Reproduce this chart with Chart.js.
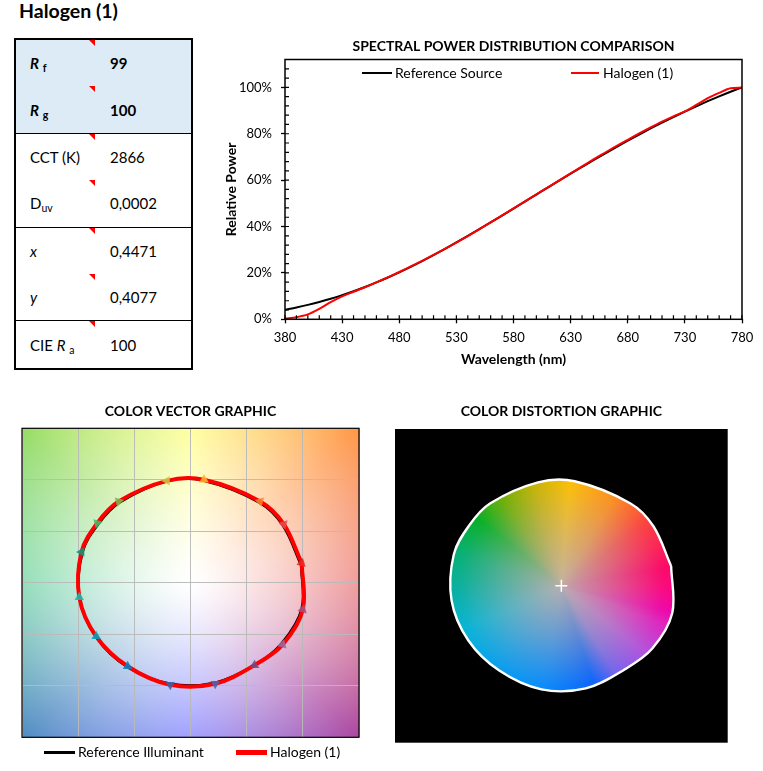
<!DOCTYPE html>
<html>
<head>
<meta charset="utf-8">
<title>Halogen (1)</title>
<script src="https://cdn.jsdelivr.net/npm/chart.js@4.4.1/dist/chart.umd.min.js"></script>
<style>
    body { margin: 0; background: #fff; font-family: Lato, 'Open Sans', sans-serif; color: #000; }
    #page { position: relative; width: 763px; height: 771px; overflow: hidden; }
    #pageTitle { position: absolute; left: 19px; top: 0; font-size: 19.5px; font-weight: bold; line-height: 1.1; }
    #metrics { position: absolute; left: 14px; top: 38px; width: 179px; border: 2px solid #000; box-sizing: border-box; font-size: 15px; }
    .grp { border-top: 1px solid #000; }
    .grp.shade { border-top: none; background: #ddebf7; }
    .row { display: flex; height: 46.4px; align-items: center; }
    .lab { position: relative; width: 79px; height: 100%; display: flex; align-items: center; padding-left: 14px; box-sizing: border-box; white-space: nowrap; }
    .val { padding-left: 15px; }
    .note { position: absolute; right: 0; top: 0; width: 0; height: 0; border-top: 6px solid #f00; border-left: 6px solid transparent; }
    sub { font-size: 10.5px; vertical-align: -3px; line-height: 0; }
    canvas { position: absolute; }
    .legLine { position: absolute; }
    .legTxt { position: absolute; white-space: nowrap; line-height: 16px; font-size: 14px; }
</style>
</head>
<body>
<div id="page">
    <div id="pageTitle">Halogen (1)</div>
    <div id="metrics"></div>

    <canvas id="spdChart" width="558" height="345" style="left:205px; top:30px;"></canvas>
    <div class="legLine" style="left:362px; top:72px; width:30px; height:2px; background:#000;"></div>
    <span class="legTxt" style="left:395px; top:65px;">Reference Source</span>
    <div class="legLine" style="left:571px; top:72px; width:28px; height:2px; background:#f00;"></div>
    <span class="legTxt" style="left:603px; top:65px;">Halogen (1)</span>

    <canvas id="vectorChart" width="380" height="376" style="left:0; top:395px;"></canvas>
    <div class="legLine" style="left:44px; top:751px; width:31px; height:3px; background:#000;"></div>
    <span class="legTxt" style="left:78px; top:744px;">Reference Illuminant</span>
    <div class="legLine" style="left:236px; top:750px; width:31px; height:5px; background:#f00;"></div>
    <span class="legTxt" style="left:270px; top:744px;">Halogen (1)</span>

    <canvas id="distortionChart" width="383" height="376" style="left:380px; top:395px;"></canvas>
</div>

<script>
// ---------------------------------------------------------------------------
// Dados
// ---------------------------------------------------------------------------

// tabela de métricas
const metricLabels = ['<b><i>R</i> <sub>f</sub></b>', '<b><i>R</i> <sub>g</sub></b>', 'CCT (K)', 'D<sub>uv</sub>', '<i>x</i>', '<i>y</i>', 'CIE <i>R</i> <sub>a</sub>'];
const metricValues = ['99', '100', '2866', '0,0002', '0,4471', '0,4077', '100'];
const metricGroups = [[0, 1], [2, 3], [4, 5], [6]];

// SPD (%)
const wavelengths = [380, 390, 400, 410, 420, 430, 440, 450, 460, 470, 480, 490, 500, 510, 520, 530, 540, 550, 560, 570,
    580, 590, 600, 610, 620, 630, 640, 650, 660, 670, 680, 690, 700, 710, 720, 730, 740, 750, 760, 770, 780];
const refPower = [4.16, 5.12, 6.22, 7.47, 8.86, 10.41, 12.10, 13.93, 15.91, 18.02, 20.26, 22.62, 25.10, 27.68, 30.35, 33.11,
    35.94, 38.83, 41.77, 44.74, 47.74, 50.76, 53.77, 56.80, 59.79, 62.77, 65.70, 68.61, 71.46, 74.27, 77.00, 79.66, 82.27,
    84.78, 87.21, 89.57, 91.83, 94.02, 96.12, 98.11, 100];
const halogenPower = [0.3, 0.9, 2.1, 4.5, 7.4, 9.9, 11.9, 13.8, 15.9, 18.1, 20.4, 22.8, 25.2, 27.8, 30.4, 33.1, 35.9, 38.8,
    41.8, 44.8, 47.8, 50.8, 53.9, 56.9, 59.9, 62.9, 65.9, 68.9, 71.8, 74.7, 77.4, 80.1, 82.7, 85.2, 87.5, 89.6, 92.4, 95.3,
    97.6, 99.6, 99.9];
const xMajorTicks = [380, 430, 480, 530, 580, 630, 680, 730, 780];
const yMajorTicks = [0, 20, 40, 60, 80, 100];

// gráfico vetorial (16 bins de matiz, bin 1 a 16)
const binColors = ['#e62828', '#e74b4b', '#fb812e', '#ffb529', '#cbca46', '#7eb94c', '#41c06d', '#009c7c',
    '#16bcb0', '#00a4bf', '#0085c3', '#3b62aa', '#4568ae', '#6a4e85', '#9d69a1', '#a74f81'];
const testX = [0.99, 0.83, 0.62, 0.12, -0.21, -0.64, -0.83, -0.97, -0.99, -0.84, -0.56, -0.18, 0.22, 0.57, 0.82, 1.00];
const testY = [0.19, 0.57, 0.79, 1.00, 0.99, 0.79, 0.58, 0.30, -0.14, -0.52, -0.81, -0.99, -0.98, -0.80, -0.60, -0.26];
const refX = [0.985, 0.82, 0.61, 0.12, -0.20, -0.63, -0.82, -0.96, -0.99, -0.84, -0.56, -0.18, 0.22, 0.57, 0.81, 0.99];
const refY = [0.17, 0.56, 0.78, 0.99, 0.99, 0.78, 0.57, 0.30, -0.14, -0.53, -0.82, -0.98, -0.97, -0.80, -0.59, -0.25];

// ---------------------------------------------------------------------------
// Tabela
// ---------------------------------------------------------------------------
function renderMetrics() {
    const box = document.getElementById('metrics');
    box.innerHTML = metricGroups.map((grp, gi) => `
        <div class="grp${gi === 0 ? ' shade' : ''}">
            ${grp.map(i => `
                <div class="row">
                    <div class="lab"><span>${metricLabels[i]}</span><span class="note"></span></div>
                    <div class="val">${gi === 0 ? '<b>' + metricValues[i] + '</b>' : metricValues[i]}</div>
                </div>`).join('')}
        </div>`).join('');
}
renderMetrics();

Chart.defaults.font.family = "Lato, 'Open Sans', sans-serif";
Chart.defaults.color = '#000';

// ---------------------------------------------------------------------------
// SPD
// ---------------------------------------------------------------------------
const spdFrame = {
    id: 'spdFrame',
    afterDraw(chart) {
        const { ctx, chartArea: a, scales: { x, y } } = chart;
        ctx.save();
        ctx.strokeStyle = '#000';
        ctx.lineWidth = 1.2;
        ctx.beginPath();
        // marcas internas (todas)
        x.ticks.forEach(t => {
            const px = x.getPixelForValue(t.value);
            ctx.moveTo(px, a.bottom);
            ctx.lineTo(px, a.bottom - 4);
        });
        y.ticks.forEach(t => {
            const py = y.getPixelForValue(t.value);
            ctx.moveTo(a.left, py);
            ctx.lineTo(a.left + 4, py);
        });
        ctx.stroke();
        ctx.lineWidth = 1.5;
        ctx.strokeRect(a.left, a.top, a.right - a.left, a.bottom - a.top);
        ctx.restore();
    }
};

new Chart(document.getElementById('spdChart'), {
    type: 'line',
    data: {
        datasets: [
            {
                label: 'Halogen (1)',
                data: wavelengths.map((w, i) => ({ x: w, y: halogenPower[i] })),
                borderColor: '#ff0000',
                borderWidth: 2,
                pointRadius: 0,
                cubicInterpolationMode: 'monotone',
                order: 1
            },
            {
                label: 'Reference Source',
                data: wavelengths.map((w, i) => ({ x: w, y: refPower[i] })),
                borderColor: '#000000',
                borderWidth: 2,
                pointRadius: 0,
                cubicInterpolationMode: 'monotone',
                order: 2
            }
        ]
    },
    options: {
        responsive: false,
        animation: false,
        devicePixelRatio: 1,
        events: [],
        layout: { padding: { left: 14.2, right: 21, top: 0, bottom: 3.3 } },
        plugins: {
            legend: { display: false },
            tooltip: { enabled: false },
            title: {
                display: true,
                fullSize: false,
                text: 'SPECTRAL POWER DISTRIBUTION COMPARISON',
                font: { size: 14, weight: 'bold' },
                color: '#000',
                padding: { top: 8.3, bottom: 4.4 }
            }
        },
        scales: {
            x: {
                type: 'linear',
                min: 380,
                max: 780,
                afterFit: s => { s.height = 52.4; },
                ticks: {
                    stepSize: 10,
                    autoSkip: false,
                    maxRotation: 0,
                    padding: 7,
                    font: { size: 13 },
                    color: '#000',
                    callback: v => xMajorTicks.includes(v) ? String(v) : ''
                },
                grid: {
                    drawOnChartArea: false,
                    tickLength: 4,
                    tickWidth: 1.3,
                    tickColor: c => xMajorTicks.includes(c.tick.value) ? '#000' : 'rgba(0,0,0,0)'
                },
                border: { display: false },
                title: {
                    display: true,
                    text: 'Wavelength (nm)',
                    font: { size: 14, weight: 'bold' },
                    color: '#000',
                    padding: { top: 4, bottom: 4 }
                }
            },
            y: {
                min: 0,
                max: 112,
                afterFit: s => { s.width = 65.8; },
                ticks: {
                    stepSize: 4,
                    autoSkip: false,
                    padding: 9,
                    font: { size: 13 },
                    color: '#000',
                    callback: v => yMajorTicks.includes(v) ? v + '%' : ''
                },
                grid: {
                    drawOnChartArea: false,
                    tickLength: 4,
                    tickWidth: 1.3,
                    tickColor: c => yMajorTicks.includes(c.tick.value) ? '#000' : 'rgba(0,0,0,0)'
                },
                border: { display: false },
                title: {
                    display: true,
                    text: 'Relative Power',
                    font: { size: 14, weight: 'bold' },
                    color: '#000',
                    padding: { top: 4, bottom: 4 }
                }
            }
        }
    },
    plugins: [spdFrame]
});

// ---------------------------------------------------------------------------
// Color vector graphic
// ---------------------------------------------------------------------------
const fieldStops = [
    [232, 104, 104], [255, 150, 70], [255, 255, 110], [150, 220, 100],
    [90, 205, 150], [80, 140, 195], [110, 110, 255], [170, 70, 160], [232, 104, 104]
];

function paintHueField(chart) {
    const a = chart.chartArea, xs = chart.scales.x, ys = chart.scales.y;
    const w = Math.ceil(a.width), h = Math.ceil(a.height);
    const cv = document.createElement('canvas');
    cv.width = w;
    cv.height = h;
    const g = cv.getContext('2d');
    const img = g.createImageData(w, h);
    for (let j = 0; j < h; j++) {
        const vy = ys.getValueForPixel(a.top + j + 0.5);
        for (let i = 0; i < w; i++) {
            const vx = xs.getValueForPixel(a.left + i + 0.5);
            let ang = Math.atan2(vy, vx) * 180 / Math.PI;
            if (ang < 0) ang += 360;
            const k = Math.min(7, Math.floor(ang / 45));
            const f = (ang - k * 45) / 45;
            const c0 = fieldStops[k], c1 = fieldStops[k + 1];
            const t = Math.min(1, Math.pow(Math.hypot(vx, vy) / 2.12, 1.25));
            const o = (j * w + i) * 4;
            for (let ch = 0; ch < 3; ch++) {
                const hue = c0[ch] + (c1[ch] - c0[ch]) * f;
                img.data[o + ch] = 255 + (hue - 255) * t;
            }
            img.data[o + 3] = 255;
        }
    }
    g.putImageData(img, 0, 0);
    return cv;
}

const vectorBackdrop = {
    id: 'vectorBackdrop',
    beforeDraw(chart) {
        const a = chart.chartArea;
        if (!chart.$field) chart.$field = paintHueField(chart);
        chart.ctx.drawImage(chart.$field, a.left, a.top);
    },
    afterDraw(chart) {
        const { ctx, chartArea: a } = chart;
        ctx.save();
        ctx.strokeStyle = '#000';
        ctx.lineWidth = 1.2;
        ctx.strokeRect(a.left, a.top, a.width, a.height);
        ctx.restore();
    }
};

// contorno fechado: repete o bin 1 no fim
const testLoop = testX.map((x, i) => ({ x, y: testY[i] })).concat([{ x: testX[0], y: testY[0] }]);
const refLoop = refX.map((x, i) => ({ x, y: refY[i] })).concat([{ x: refX[0], y: refY[0] }]);
const arrowRot = testX.map((x, i) => Math.atan2(x - refX[i], testY[i] - refY[i]) * 180 / Math.PI);

const squareAxis = (extra) => Object.assign({
    type: 'linear',
    min: -1.5,
    max: 1.5,
    ticks: { display: false, stepSize: 0.5 },
    grid: { color: 'rgba(185,185,185,0.95)', lineWidth: 1, drawTicks: false },
    border: { display: false }
}, extra);

new Chart(document.getElementById('vectorChart'), {
    type: 'line',
    data: {
        datasets: [
            {
                label: 'Halogen (1)',
                data: testLoop,
                borderColor: '#ff0000',
                borderWidth: 4,
                borderJoinStyle: 'round',
                tension: 0.35,
                pointRadius: 0,
                order: 1
            },
            {
                label: 'Reference Illuminant',
                data: refLoop,
                borderColor: '#000000',
                borderWidth: 2.5,
                tension: 0.35,
                pointRadius: 0,
                order: 2
            },
            {
                label: 'bins',
                data: testX.map((x, i) => ({ x, y: testY[i] })),
                showLine: false,
                pointStyle: 'triangle',
                pointRadius: 5.5,
                pointBorderWidth: 0,
                pointBackgroundColor: binColors.map(c => c + 'dd'),
                pointBorderColor: 'rgba(0,0,0,0)',
                rotation: c => arrowRot[c.dataIndex] || 0,
                order: 0
            }
        ]
    },
    options: {
        responsive: false,
        animation: false,
        devicePixelRatio: 1,
        events: [],
        layout: { padding: { left: 22, right: 21, top: 0, bottom: 33.7 } },
        plugins: {
            legend: { display: false },
            tooltip: { enabled: false },
            title: {
                display: true,
                fullSize: false,
                text: 'COLOR VECTOR GRAPHIC',
                font: { size: 14, weight: 'bold' },
                color: '#000',
                padding: { top: 8.3, bottom: 8.2 }
            }
        },
        scales: {
            x: squareAxis({ afterFit: s => { s.height = 0; } }),
            y: squareAxis({ afterFit: s => { s.width = 0; } })
        }
    },
    plugins: [vectorBackdrop]
});

// ---------------------------------------------------------------------------
// Color distortion graphic
// ---------------------------------------------------------------------------
const wheelStops = [
    [0, '#ff0078'], [0.036, '#f000a8'], [0.057, '#e020c0'], [0.108, '#b050e0'], [0.162, '#7060f0'],
    [0.199, '#0060ff'], [0.276, '#0088ff'], [0.363, '#00a0f0'], [0.433, '#00b4d8'], [0.496, '#00b0a0'],
    [0.552, '#00b070'], [0.608, '#00b020'], [0.657, '#70b000'], [0.709, '#c8b400'], [0.763, '#ffc000'],
    [0.837, '#ff8c1a'], [0.899, '#ff3c3c'], [0.973, '#ff0066'], [1, '#ff0078']
];

const distortionFill = {
    id: 'distortionFill',
    beforeDatasetsDraw(chart) {
        const { ctx, chartArea: a, scales: { x, y } } = chart;
        ctx.save();
        ctx.fillStyle = '#000';
        ctx.fillRect(a.left, a.top, a.width, a.height);
        const line = chart.getDatasetMeta(0).dataset;
        line.updateControlPoints(a, 'x');
        const cx = x.getPixelForValue(0), cy = y.getPixelForValue(0);
        ctx.beginPath();
        line.path(ctx);
        ctx.closePath();
        ctx.clip();
        const conic = ctx.createConicGradient(0, cx, cy);
        wheelStops.forEach(([p, c]) => conic.addColorStop(p, c));
        ctx.fillStyle = conic;
        ctx.fillRect(a.left, a.top, a.width, a.height);
        const radial = ctx.createRadialGradient(cx, cy, 0, cx, cy, 118);
        radial.addColorStop(0, 'rgba(190,176,172,0.95)');
        radial.addColorStop(0.45, 'rgba(190,176,172,0.5)');
        radial.addColorStop(0.85, 'rgba(190,176,172,0.08)');
        radial.addColorStop(1, 'rgba(190,176,172,0)');
        ctx.fillStyle = radial;
        ctx.fillRect(a.left, a.top, a.width, a.height);
        ctx.restore();
    }
};

new Chart(document.getElementById('distortionChart'), {
    type: 'line',
    data: {
        datasets: [
            {
                label: 'Halogen (1)',
                data: testLoop,
                borderColor: '#ffffff',
                borderWidth: 2.4,
                tension: 0.35,
                pointRadius: 0
            },
            {
                label: 'center',
                data: [{ x: 0, y: 0 }],
                showLine: false,
                pointStyle: 'cross',
                pointRadius: 6,
                pointBorderColor: '#ffffff',
                pointBorderWidth: 1.5
            }
        ]
    },
    options: {
        responsive: false,
        animation: false,
        devicePixelRatio: 1,
        events: [],
        layout: { padding: { left: 15, right: 35.3, top: 0, bottom: 28.3 } },
        plugins: {
            legend: { display: false },
            tooltip: { enabled: false },
            title: {
                display: true,
                fullSize: false,
                text: 'COLOR DISTORTION GRAPHIC',
                font: { size: 14, weight: 'bold' },
                color: '#000',
                padding: { top: 8.3, bottom: 8.9 }
            }
        },
        scales: {
            x: { type: 'linear', min: -1.5, max: 1.5, display: false },
            y: { type: 'linear', min: -1.5, max: 1.5, display: false }
        }
    },
    plugins: [distortionFill]
});
</script>
</body>
</html>
